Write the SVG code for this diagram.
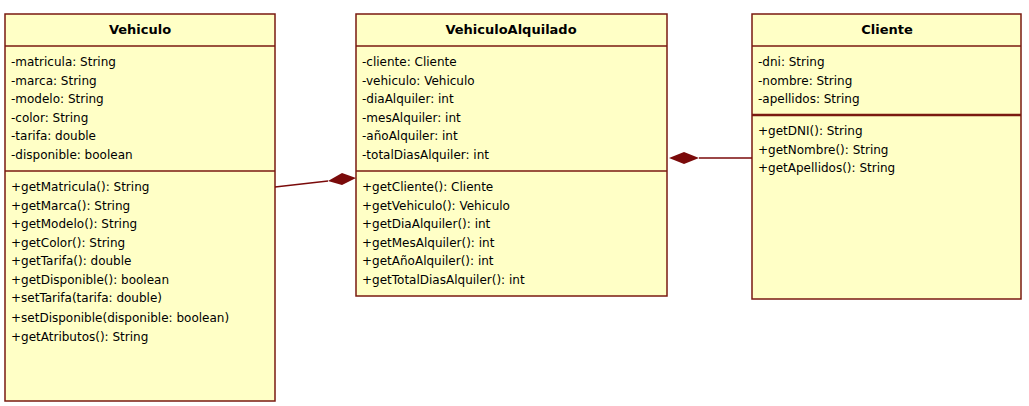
<svg xmlns="http://www.w3.org/2000/svg" width="1029" height="406" viewBox="0 0 1029 406">
<style>
.box{fill:#ffffc6;stroke:#7a1a10;stroke-width:1.5}
.div{stroke:#7a1a10;stroke-width:1.5}
.t{font-family:"DejaVu Sans",sans-serif;font-size:12px;fill:#000}
.h{font-family:"DejaVu Sans",sans-serif;font-size:13px;font-weight:bold;fill:#000;text-anchor:middle}
.c{stroke:#7a0a0a;stroke-width:1.3;fill:none}
.d{fill:#7a0a0a}
</style>
<rect width="1029" height="406" fill="#fff"/>
<g id="Vehiculo">
<rect class="box" x="5" y="14" width="270" height="387"/>
<line class="div" x1="5" y1="46" x2="275" y2="46"/>
<line class="div" x1="5" y1="171" x2="275" y2="171"/>
<text class="h" x="140" y="34">Vehiculo</text>
<text class="t" x="11" y="66">-matricula: String</text>
<text class="t" x="11" y="84.5">-marca: String</text>
<text class="t" x="11" y="103">-modelo: String</text>
<text class="t" x="11" y="121.5">-color: String</text>
<text class="t" x="11" y="140">-tarifa: double</text>
<text class="t" x="11" y="158.5">-disponible: boolean</text>
<text class="t" x="11" y="191">+getMatricula(): String</text>
<text class="t" x="11" y="209.5">+getMarca(): String</text>
<text class="t" x="11" y="228">+getModelo(): String</text>
<text class="t" x="11" y="246.5">+getColor(): String</text>
<text class="t" x="11" y="265">+getTarifa(): double</text>
<text class="t" x="11" y="283.5">+getDisponible(): boolean</text>
<text class="t" x="11" y="302">+setTarifa(tarifa: double)</text>
<text class="t" x="11" y="322">+setDisponible(disponible: boolean)</text>
<text class="t" x="11" y="341">+getAtributos(): String</text>
</g>
<g id="VehiculoAlquilado">
<rect class="box" x="356" y="14" width="311" height="282"/>
<line class="div" x1="356" y1="46" x2="667" y2="46"/>
<line class="div" x1="356" y1="171" x2="667" y2="171"/>
<text class="h" x="511" y="34">VehiculoAlquilado</text>
<text class="t" x="362" y="66">-cliente: Cliente</text>
<text class="t" x="362" y="84.5">-vehiculo: Vehiculo</text>
<text class="t" x="362" y="103">-diaAlquiler: int</text>
<text class="t" x="362" y="121.5">-mesAlquiler: int</text>
<text class="t" x="362" y="140">-añoAlquiler: int</text>
<text class="t" x="362" y="158.5">-totalDiasAlquiler: int</text>
<text class="t" x="362" y="191">+getCliente(): Cliente</text>
<text class="t" x="362" y="209.5">+getVehiculo(): Vehiculo</text>
<text class="t" x="362" y="228">+getDiaAlquiler(): int</text>
<text class="t" x="362" y="246.5">+getMesAlquiler(): int</text>
<text class="t" x="362" y="265">+getAñoAlquiler(): int</text>
<text class="t" x="362" y="283.5">+getTotalDiasAlquiler(): int</text>
</g>
<g id="Cliente">
<rect class="box" x="752" y="14" width="269" height="285"/>
<line class="div" x1="752" y1="46" x2="1021" y2="46"/>
<line class="div" x1="752" y1="115" x2="1021" y2="115" style="stroke-width:2.5"/>
<text class="h" x="887" y="34">Cliente</text>
<text class="t" x="758" y="66">-dni: String</text>
<text class="t" x="758" y="84.5">-nombre: String</text>
<text class="t" x="758" y="103">-apellidos: String</text>
<text class="t" x="758" y="135">+getDNI(): String</text>
<text class="t" x="758" y="153.5">+getNombre(): String</text>
<text class="t" x="758" y="172">+getApellidos(): String</text>
</g>
<g id="connectors">
<line class="c" x1="275" y1="187" x2="328" y2="181"/>
<polygon class="d" points="356,178 342,173 328,181 342,185"/>
<line class="c" x1="752" y1="158" x2="699" y2="158"/>
<polygon class="d" points="669,158 684,152 699,158 684,164"/>
</g>
</svg>
